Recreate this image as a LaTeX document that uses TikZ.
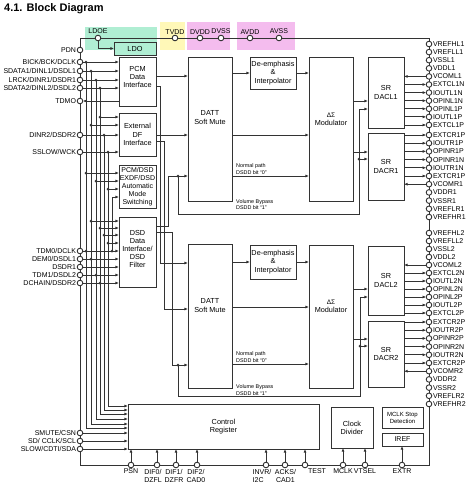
\documentclass[tikz,border=0pt]{standalone}
\usepackage{fontspec}
\setmainfont{Liberation Sans}
\usetikzlibrary{arrows.meta, positioning, calc}
\definecolor{akline}{HTML}{333333}
\definecolor{akgreen}{HTML}{B0EED3}
\definecolor{akyellow}{HTML}{FFF8B8}
\definecolor{akpink}{HTML}{F4BCEE}

\begin{document}
\begin{tikzpicture}[x=1pt, y=-1pt,
    blk/.style={draw=akline, fill=white, line width=0.9pt, inner sep=0pt, outer sep=0pt,
                align=center, font=\fontsize{7.3}{8.2}\selectfont},
    pin/.style={circle, draw=akline, fill=white, line width=0.9pt, minimum size=5.6pt,
                inner sep=0pt, outer sep=0pt},
    lbl/.style={font=\fontsize{7}{8}\selectfont, inner sep=1pt},
    txt/.style={font=\fontsize{7.3}{8.2}\selectfont, align=center, inner sep=0pt},
    note/.style={font=\fontsize{5.4}{6.4}\selectfont, align=left, anchor=west, inner sep=0pt},
    wire/.style={draw=akline, line width=0.9pt},
    arr/.style={wire, -{Latex[length=3.6pt, width=3pt]}},
]
    \useasboundingbox (0,0) rectangle (474,488);

    \node[font=\fontsize{11}{13}\selectfont\bfseries, anchor=west, inner sep=0pt] (title) at (4,9) {4.1. Block Diagram};

    % Supply groups
    \fill[akgreen] (85,27) rectangle (157,50);
    \fill[akyellow] (160,22) rectangle (185,50);
    \fill[akpink] (187,22) rectangle (230,50);
    \fill[akpink] (237,22) rectangle (295,50);

    % Chip edge
    \draw[wire] (80,38) rectangle (429,465);

    % Blocks
    \node[blk, fill=akgreen, minimum width=42, minimum height=13] (ldo) at (135,48.5) {LDO};
    \node[blk, minimum width=37, minimum height=49] (pcm) at (137.5,81.5) {};
    \node[txt] (pcm-t) at (137.5,77) {PCM\\Data\\Interface};
    \node[blk, minimum width=37, minimum height=43] (extdf) at (137.5,134.5) {External\\DF\\Interface};
    \node[blk, minimum width=37, minimum height=43, font=\fontsize{7}{7.9}\selectfont] (auto) at (137.5,186.5) {PCM/DSD\\EXDF/DSD\\Automatic\\Mode\\Switching};
    \node[blk, minimum width=37, minimum height=70] (dsd) at (137.5,252) {};
    \node[txt] (dsd-t) at (137.5,249) {DSD\\Data\\Interface/\\DSD\\Filter};
    \node[blk, minimum width=44, minimum height=144] (datt1) at (210,129) {};
    \node[txt] (datt1-t) at (210,117.5) {DATT\\Soft Mute};
    \node[blk, minimum width=44, minimum height=144] (datt2) at (210,316) {};
    \node[txt] (datt2-t) at (210,305.5) {DATT\\Soft Mute};
    \node[blk, minimum width=46, minimum height=32] (deemph1) at (273,73) {De-emphasis\\\&\\Interpolator};
    \node[blk, minimum width=46, minimum height=34] (deemph2) at (273,262) {De-emphasis\\\&\\Interpolator};
    \node[blk, minimum width=44, minimum height=144] (mod1) at (331,129) {};
    \node[txt] (mod1-t) at (331,119.5) {{\fontsize{6.5}{7}\selectfont ΔΣ}\\Modulator};
    \node[blk, minimum width=44, minimum height=143] (mod2) at (331,316.5) {};
    \node[txt] (mod2-t) at (331,306.5) {{\fontsize{6.5}{7}\selectfont ΔΣ}\\Modulator};
    \node[blk, minimum width=36, minimum height=71] (dacl1) at (386,92.5) {SR\\DACL1};
    \node[blk, minimum width=36, minimum height=67] (dacr1) at (386,166.5) {SR\\DACR1};
    \node[blk, minimum width=36, minimum height=69] (dacl2) at (386,280.5) {SR\\DACL2};
    \node[blk, minimum width=36, minimum height=66] (dacr2) at (386,354) {SR\\DACR2};
    \node[blk, minimum width=191, minimum height=45] (ctrl) at (223.5,426.5) {Control\\Register};
    \node[blk, minimum width=42, minimum height=41] (clkdiv) at (352,427.5) {Clock\\Divider};
    \node[blk, minimum width=41, minimum height=21, font=\fontsize{6}{7}\selectfont] (mclkstop) at (402.5,417.5) {MCLK Stop\\Detection};
    \node[blk, minimum width=41, minimum height=13, font=\fontsize{7}{8}\selectfont] (iref) at (402.5,439.5) {IREF};

    % Annotations
    \node[note] (normal1) at (236,169) {Normal path\\DSDD bit ``0''};
    \node[note] (bypass1) at (236,204.5) {Volume Bypass\\DSDD bit ``1''};
    \node[note] (normal2) at (236,357) {Normal path\\DSDD bit ``0''};
    \node[note] (bypass2) at (236,390) {Volume Bypass\\DSDD bit ``1''};

    % Top pins
    \node[pin, label={[lbl]above:LDOE}] (ldoe) at (98,38) {};
    \node[pin, label={[lbl]above:TVDD}] (tvdd) at (175,38) {};
    \node[pin, label={[lbl]above:DVDD}] (dvdd) at (200,38) {};
    \node[pin, label={[lbl]above:DVSS}] (dvss) at (221,38) {};
    \node[pin, label={[lbl]above:AVDD}] (avdd) at (250,38) {};
    \node[pin, label={[lbl]above:AVSS}] (avss) at (279,38) {};

    % Left pins
    \node[pin, label={[lbl]left:PDN}] (pdn) at (80,50) {};
    \node[pin, label={[lbl]left:BICK/BCK/DCLK}] (bick) at (80,62) {};
    \node[pin, label={[lbl]left:SDATA1/DINL1/DSDL1}] (sdata1) at (80,71) {};
    \node[pin, label={[lbl]left:LRCK/DINR1/DSDR1}] (lrck) at (80,80) {};
    \node[pin, label={[lbl]left:SDATA2/DINL2/DSDL2}] (sdata2) at (80,88) {};
    \node[pin, label={[lbl]left:TDMO}] (tdmo) at (80,101) {};
    \node[pin, label={[lbl]left:DINR2/DSDR2}] (dinr2) at (80,135) {};
    \node[pin, label={[lbl]left:SSLOW/WCK}] (sslow) at (80,152) {};
    \node[pin, label={[lbl]left:TDM0/DCLK}] (tdm0) at (80,251) {};
    \node[pin, label={[lbl]left:DEM0/DSDL1}] (dem0) at (80,259) {};
    \node[pin, label={[lbl]left:DSDR1}] (dsdr1) at (80,267) {};
    \node[pin, label={[lbl]left:TDM1/DSDL2}] (tdm1) at (80,275) {};
    \node[pin, label={[lbl]left:DCHAIN/DSDR2}] (dchain) at (80,283) {};
    \node[pin, label={[lbl]left:SMUTE/CSN}] (smute) at (80,433) {};
    \node[pin, label={[lbl]left:SD/ CCLK/SCL}] (sd) at (80,441) {};
    \node[pin, label={[lbl]left:SLOW/CDTI/SDA}] (slow) at (80,449) {};

    % Right pins
    \node[pin, label={[lbl]right:VREFHL1}] (vrefhl1) at (429,44) {};
    \node[pin, label={[lbl]right:VREFLL1}] (vrefll1) at (429,52.1) {};
    \node[pin, label={[lbl]right:VSSL1}] (vssl1) at (429,60.2) {};
    \node[pin, label={[lbl]right:VDDL1}] (vddl1) at (429,68.3) {};
    \node[pin, label={[lbl]right:VCOML1}] (vcoml1) at (429,76.4) {};
    \node[pin, label={[lbl]right:EXTCL1N}] (extcl1n) at (429,84.5) {};
    \node[pin, label={[lbl]right:IOUTL1N}] (ioutl1n) at (429,92.6) {};
    \node[pin, label={[lbl]right:OPINL1N}] (opinl1n) at (429,100.7) {};
    \node[pin, label={[lbl]right:OPINL1P}] (opinl1p) at (429,108.8) {};
    \node[pin, label={[lbl]right:IOUTL1P}] (ioutl1p) at (429,116.9) {};
    \node[pin, label={[lbl]right:EXTCL1P}] (extcl1p) at (429,125) {};
    \node[pin, label={[lbl]right:EXTCR1P}] (extcr1p) at (429,135) {};
    \node[pin, label={[lbl]right:IOUTR1P}] (ioutr1p) at (429,143.2) {};
    \node[pin, label={[lbl]right:OPINR1P}] (opinr1p) at (429,151.4) {};
    \node[pin, label={[lbl]right:OPINR1N}] (opinr1n) at (429,159.6) {};
    \node[pin, label={[lbl]right:IOUTR1N}] (ioutr1n) at (429,167.8) {};
    \node[pin, label={[lbl]right:EXTCR1P}] (extcr1x) at (429,176) {};
    \node[pin, label={[lbl]right:VCOMR1}] (vcomr1) at (429,184.2) {};
    \node[pin, label={[lbl]right:VDDR1}] (vddr1) at (429,192.4) {};
    \node[pin, label={[lbl]right:VSSR1}] (vssr1) at (429,200.6) {};
    \node[pin, label={[lbl]right:VREFLR1}] (vreflr1) at (429,208.8) {};
    \node[pin, label={[lbl]right:VREFHR1}] (vrefhr1) at (429,217) {};
    \node[pin, label={[lbl]right:VREFHL2}] (vrefhl2) at (429,233) {};
    \node[pin, label={[lbl]right:VREFLL2}] (vrefll2) at (429,241) {};
    \node[pin, label={[lbl]right:VSSL2}] (vssl2) at (429,249) {};
    \node[pin, label={[lbl]right:VDDL2}] (vddl2) at (429,257) {};
    \node[pin, label={[lbl]right:VCOML2}] (vcoml2) at (429,265) {};
    \node[pin, label={[lbl]right:EXTCL2N}] (extcl2n) at (429,273) {};
    \node[pin, label={[lbl]right:IOUTL2N}] (ioutl2n) at (429,281) {};
    \node[pin, label={[lbl]right:OPINL2N}] (opinl2n) at (429,289) {};
    \node[pin, label={[lbl]right:OPINL2P}] (opinl2p) at (429,297) {};
    \node[pin, label={[lbl]right:IOUTL2P}] (ioutl2p) at (429,305) {};
    \node[pin, label={[lbl]right:EXTCL2P}] (extcl2p) at (429,313) {};
    \node[pin, label={[lbl]right:EXTCR2P}] (extcr2p) at (429,322) {};
    \node[pin, label={[lbl]right:IOUTR2P}] (ioutr2p) at (429,330.2) {};
    \node[pin, label={[lbl]right:OPINR2P}] (opinr2p) at (429,338.4) {};
    \node[pin, label={[lbl]right:OPINR2N}] (opinr2n) at (429,346.6) {};
    \node[pin, label={[lbl]right:IOUTR2N}] (ioutr2n) at (429,354.8) {};
    \node[pin, label={[lbl]right:EXTCR2P}] (extcr2x) at (429,363) {};
    \node[pin, label={[lbl]right:VCOMR2}] (vcomr2) at (429,371.2) {};
    \node[pin, label={[lbl]right:VDDR2}] (vddr2) at (429,379.4) {};
    \node[pin, label={[lbl]right:VSSR2}] (vssr2) at (429,387.6) {};
    \node[pin, label={[lbl]right:VREFLR2}] (vreflr2) at (429,395.8) {};
    \node[pin, label={[lbl]right:VREFHR2}] (vrefhr2) at (429,404) {};

    % Bottom pins
    \node[pin, label={[lbl]below:PSN}] (psn) at (131,465) {};
    \node[pin, label={[lbl, align=center, xshift=-4pt]below:DIF0/\\DZFL}] (dif0) at (157,465) {};
    \node[pin, label={[lbl, align=center, xshift=-2pt]below:DIF1/\\DZFR}] (dif1) at (176,465) {};
    \node[pin, label={[lbl, align=center, xshift=-1pt]below:DIF2/\\CAD0}] (dif2) at (197,465) {};
    \node[pin, label={[lbl, align=left, xshift=-4pt]below:INVR/\\I2C}] (invr) at (266,465) {};
    \node[pin, label={[lbl, align=center, xshift=0.5pt]below:ACKS/\\CAD1}] (acks) at (285,465) {};
    \node[pin, label={[lbl, xshift=12pt]below:TEST}] (test) at (305,465) {};
    \node[pin, label={[lbl]below:MCLK}] (mclk) at (343,465) {};
    \node[pin, label={[lbl]below:VTSEL}] (vtsel) at (365,465) {};
    \node[pin, label={[lbl]below:EXTR}] (extr) at (402,465) {};

    % LDO enable
    \draw[arr] (ldoe) |- (ldo.west);

    % Audio inputs
    \draw[arr] (bick) -- (bick -| pcm.west);
    \draw[arr] (sdata1) -- (sdata1 -| pcm.west);
    \draw[arr] (lrck) -- (lrck -| pcm.west);
    \draw[arr] (sdata2) -- (sdata2 -| pcm.west);
    \draw[arr] (tdmo -| pcm.west) -- (tdmo);
    \draw[arr] (dinr2) -- (dinr2 -| extdf.west);
    \draw[arr] (sslow) -- (sslow -| extdf.west);
    \draw[arr] (tdm0) -- (tdm0 -| dsd.west);
    \draw[arr] (dem0) -- (dem0 -| dsd.west);
    \draw[arr] (dsdr1) -- (dsdr1 -| dsd.west);
    \draw[arr] (tdm1) -- (tdm1 -| dsd.west);
    \draw[arr] (dchain) -- (dchain -| dsd.west);
    \draw[arr] (smute) -- (smute -| ctrl.west);
    \draw[arr] (sd) -- (sd -| ctrl.west);
    \draw[arr] (slow) -- (slow -| ctrl.west);

    % Bus lines down to the register
    \draw[arr] (bick -| 86,0) |- (ctrl.west |- 0,428);
    \draw[arr] (sdata1 -| 91,0) |- (ctrl.west |- 0,424);
    \draw[arr] (lrck -| 96,0) |- (ctrl.west |- 0,419);
    \draw[arr] (sdata2 -| 100,0) |- (ctrl.west |- 0,414);
    \draw[arr] (dinr2 -| 104,0) |- (ctrl.west |- 0,410);
    \draw[arr] (sslow -| 108,0) |- (ctrl.west |- 0,406);
    \draw[arr] (tdm0 -| 112,0) |- (auto.west |- 0,197);

    % Taps from the bus
    \draw[arr] (100,117) -- (extdf.west |- 0,117);
    \draw[arr] (91,125) -- (extdf.west |- 0,125);
    \draw[arr] (86,173) -- (auto.west |- 0,173);
    \draw[arr] (96,181) -- (auto.west |- 0,181);
    \draw[arr] (108,189) -- (auto.west |- 0,189);
    \draw[arr] (91,221) -- (dsd.west |- 0,221);
    \draw[arr] (100,228) -- (dsd.west |- 0,228);
    \draw[arr] (104,235) -- (dsd.west |- 0,235);
    \draw[arr] (108,243) -- (dsd.west |- 0,243);
    \fill[akline] (86,62) circle (1.5pt) (91,71) circle (1.5pt) (96,80) circle (1.5pt)
        (100,88) circle (1.5pt) (104,135) circle (1.5pt) (108,152) circle (1.5pt)
        (100,117) circle (1.5pt) (91,125) circle (1.5pt) (86,173) circle (1.5pt)
        (96,181) circle (1.5pt) (108,189) circle (1.5pt) (91,221) circle (1.5pt)
        (100,228) circle (1.5pt) (104,235) circle (1.5pt) (108,243) circle (1.5pt)
        (86,251) circle (1.5pt) (112,251) circle (1.5pt) (91,259) circle (1.5pt)
        (96,275) circle (1.5pt) (100,283) circle (1.5pt);

    % Interfaces to DATT
    \draw[arr] (pcm.east |- 0,76) -- (datt1.west |- 0,76);
    \draw[arr] (pcm.east |- 0,86) -- (160,86) -- (160,263) -- (datt2.west |- 0,263);
    \draw[arr] (extdf.east |- 0,135) -- (datt1.west |- 0,135);
    \draw[arr] (extdf.east |- 0,141) -- (164,141) -- (164,309) -- (datt2.west |- 0,309);
    \draw[arr] (dsd.east |- 0,226) -- (168,226) -- (168,176) -- (datt1.west |- 0,176);
    \draw[arr] (dsd.east |- 0,232) -- (172,232) -- (172,365) -- (datt2.west |- 0,365);

    % DATT to modulator
    \draw[arr] (datt1.east |- deemph1.west) -- (deemph1.west);
    \draw[arr] (deemph1.east) -- (mod1.west |- deemph1.east);
    \draw[arr] (datt1.east |- 0,135) -- (mod1.west |- 0,135);
    \draw[arr] (datt1.east |- 0,176) -- (mod1.west |- 0,176);
    \draw[arr] (datt2.east |- deemph2.west) -- (deemph2.west);
    \draw[arr] (deemph2.east) -- (mod2.west |- deemph2.east);
    \draw[arr] (datt2.east |- 0,307) -- (mod2.west |- 0,307);
    \draw[arr] (datt2.east |- 0,364) -- (mod2.west |- 0,364);

    % Modulator to DAC
    \draw[arr] (mod1.east |- 0,101) -- (dacl1.west |- 0,101);
    \draw[arr] (mod1.east |- 0,152) -- (dacr1.west |- 0,152);
    \draw[arr] (mod2.east |- 0,289) -- (dacl2.west |- 0,289);
    \draw[arr] (mod2.east |- 0,339) -- (dacr2.west |- 0,339);

    % Volume bypass
    \draw[arr] (178,176) -- (178,214) -- (359,214) -- (359,109) -- (dacl1.west |- 0,109);
    \draw[arr] (359,159) -- (dacr1.west |- 0,159);
    \draw[arr] (178,365) -- (178,396) -- (360,396) -- (360,297) -- (dacl2.west |- 0,297);
    \draw[arr] (360,346) -- (dacr2.west |- 0,346);
    \fill[akline] (178,176) circle (1.5pt) (178,365) circle (1.5pt)
        (359,159) circle (1.5pt) (360,346) circle (1.5pt);

    % DAC outputs
    \draw[arr] (vcoml1) -- (vcoml1 -| dacl1.east);
    \draw[arr] (extcl1n -| dacl1.east) -- (extcl1n);
    \draw[arr] (ioutl1n -| dacl1.east) -- (ioutl1n);
    \draw[arr] (opinl1n -| dacl1.east) -- (opinl1n);
    \draw[arr] (opinl1p -| dacl1.east) -- (opinl1p);
    \draw[arr] (ioutl1p -| dacl1.east) -- (ioutl1p);
    \draw[arr] (extcl1p -| dacl1.east) -- (extcl1p);
    \draw[arr] (extcr1p -| dacr1.east) -- (extcr1p);
    \draw[arr] (ioutr1p -| dacr1.east) -- (ioutr1p);
    \draw[arr] (opinr1p -| dacr1.east) -- (opinr1p);
    \draw[arr] (opinr1n -| dacr1.east) -- (opinr1n);
    \draw[arr] (ioutr1n -| dacr1.east) -- (ioutr1n);
    \draw[arr] (extcr1x -| dacr1.east) -- (extcr1x);
    \draw[arr] (vcomr1) -- (vcomr1 -| dacr1.east);
    \draw[arr] (vcoml2) -- (vcoml2 -| dacl2.east);
    \draw[arr] (extcl2n -| dacl2.east) -- (extcl2n);
    \draw[arr] (ioutl2n -| dacl2.east) -- (ioutl2n);
    \draw[arr] (opinl2n -| dacl2.east) -- (opinl2n);
    \draw[arr] (opinl2p -| dacl2.east) -- (opinl2p);
    \draw[arr] (ioutl2p -| dacl2.east) -- (ioutl2p);
    \draw[arr] (extcl2p -| dacl2.east) -- (extcl2p);
    \draw[arr] (extcr2p -| dacr2.east) -- (extcr2p);
    \draw[arr] (ioutr2p -| dacr2.east) -- (ioutr2p);
    \draw[arr] (opinr2p -| dacr2.east) -- (opinr2p);
    \draw[arr] (opinr2n -| dacr2.east) -- (opinr2n);
    \draw[arr] (ioutr2n -| dacr2.east) -- (ioutr2n);
    \draw[arr] (extcr2x -| dacr2.east) -- (extcr2x);
    \draw[arr] (vcomr2) -- (vcomr2 -| dacr2.east);

    % Bottom pins
    \draw[arr] (psn) -- (psn |- ctrl.south);
    \draw[arr] (dif0) -- (dif0 |- ctrl.south);
    \draw[arr] (dif1) -- (dif1 |- ctrl.south);
    \draw[arr] (dif2) -- (dif2 |- ctrl.south);
    \draw[arr] (invr) -- (invr |- ctrl.south);
    \draw[arr] (acks) -- (acks |- ctrl.south);
    \draw[arr] (test) -- (test |- ctrl.south);
    \draw[arr] (mclk) -- (mclk |- clkdiv.south);
    \draw[arr] (vtsel) -- (vtsel |- clkdiv.south);
    \draw[arr] (extr) -- (extr |- iref.south);
\end{tikzpicture}
\end{document}
